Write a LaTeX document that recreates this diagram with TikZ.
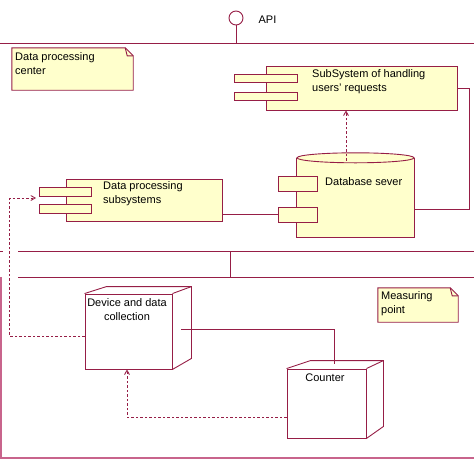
\documentclass[tikz,border=0pt]{standalone}
\usepackage{fontspec}
\setmainfont{Liberation Sans}
\usepackage{xcolor}
\usetikzlibrary{arrows,calc,positioning}
\definecolor{umlline}{RGB}{150,30,70}
\definecolor{umlfill}{RGB}{255,255,204}
\definecolor{framecol}{RGB}{200,100,140}
\tikzstyle{comp} = [draw=umlline, fill=umlfill, line width=0.9pt, rectangle, inner sep=0pt]
\tikzstyle{box3d} = [draw=umlline, fill=white, line width=0.9pt, rectangle, inner sep=0pt]
\tikzstyle{lbl} = [font=\fontsize{11}{14}\selectfont, align=left, inner sep=0pt]
\tikzstyle{conn} = [draw=umlline, line width=0.9pt]
\tikzstyle{dep} = [draw=umlline, line width=0.9pt, dash pattern=on 2.5pt off 2pt, ->, >=angle 60]

\begin{document}
\begin{tikzpicture}[x=1pt, y=-1pt]
\useasboundingbox (0,0) rectangle (474,474);

% frames
\draw[conn] (0,43) -- (480,43);
\draw[conn] (0,251) -- (3,251);
\draw[conn] (18,251) -- (480,251);
\draw[conn] (18,277) -- (480,277);
\draw[draw=framecol, line width=1.6pt] (1,277) -- (1,458) -- (480,458);
\coordinate (centerBot) at (230,251);
\coordinate (pointTop) at (230,277);
\draw[conn] (centerBot) -- (pointTop);

% interface
\node[draw=umlline, line width=0.9pt, circle, minimum size=14pt, inner sep=0pt] (api) at (236,18) {};
\node[lbl, right=15pt of api, yshift=-2pt] (apilbl) {API};
\coordinate (apiFoot) at (236,43);
\draw[conn] (api.south) -- (apiFoot);

% notes
\node[inner sep=0pt, minimum width=121pt, minimum height=42pt] (dpc) at (72.5,69) {};
\draw[conn, fill=umlfill] (dpc.south west) -- (dpc.south east) -- ([yshift=-8pt]dpc.north east)
    -- ([xshift=-8pt]dpc.north east) -- (dpc.north west) -- cycle;
\draw[conn] ([xshift=-8pt]dpc.north east) -- ([xshift=-6pt,yshift=-8pt]dpc.north east) -- ([yshift=-8pt]dpc.north east);
\node[lbl, anchor=north west] (dpclbl) at (15,52) {Data processing\\center};

\node[inner sep=0pt, minimum width=80pt, minimum height=34pt] (mp) at (418,305) {};
\draw[conn, fill=umlfill] (mp.south west) -- (mp.south east) -- ([yshift=-8pt]mp.north east)
    -- ([xshift=-8pt]mp.north east) -- (mp.north west) -- cycle;
\draw[conn] ([xshift=-8pt]mp.north east) -- ([xshift=-6pt,yshift=-8pt]mp.north east) -- ([yshift=-8pt]mp.north east);
\node[lbl, anchor=north west] (mplbl) at (381,291) {Measuring\\point};

% SubSystem of handling users' requests
\node[comp, minimum width=191pt, minimum height=44pt] (sub) at (361.5,88) {};
\node[comp, minimum width=63pt, minimum height=8pt] (subp1) at (265.5,78) {};
\node[comp, minimum width=63pt, minimum height=8pt] (subp2) at (265.5,96.5) {};
\node[lbl, anchor=north west] (sublbl) at (312,69) {SubSystem of handling\\users' requests};

% Data processing subsystems
\node[comp, minimum width=156pt, minimum height=42pt] (dps) at (144,200) {};
\node[comp, minimum width=52pt, minimum height=9pt] (dpsp1) at (65,191.5) {};
\node[comp, minimum width=52pt, minimum height=9pt] (dpsp2) at (65,208.5) {};
\node[lbl, anchor=north west] (dpslbl) at (103,181) {Data processing\\subsystems};

% Database sever
\node[inner sep=0pt, minimum width=117pt, minimum height=79pt] (db) at (355.5,197.5) {};
\fill[umlfill] (db.south west) rectangle (db.north east);
\draw[conn] (db.north west) -- (db.south west) -- (db.south east) -- (db.north east);
\draw[conn, fill=umlfill] (db.north) ellipse [x radius=58.5pt, y radius=5pt];
\node[comp, minimum width=39pt, minimum height=15pt] (dbp1) at (297.5,183.5) {};
\node[comp, minimum width=39pt, minimum height=15pt] (dbp2) at (297.5,214.5) {};
\node[lbl, anchor=north west] (dblbl) at (325,177) {Database sever};

% Device and data collection
\node[box3d, minimum width=87pt, minimum height=75pt] (dev) at (128.5,331.5) {};
\draw[conn] (dev.north west) -- ++(22,-7) -- ($(dev.north east)+(19,-7)$) -- ($(dev.south east)+(19,-11)$) -- (dev.south east);
\draw[conn] (dev.north east) -- ++(19,-7);
\node[lbl, anchor=north, align=center] (devlbl) at (127,298) {Device and data\\collection};

% Counter
\node[box3d, minimum width=79pt, minimum height=69pt] (cnt) at (326.5,403.5) {};
\draw[conn] (cnt.north west) -- ++(24,-8) -- ($(cnt.north east)+(17,-8)$) -- ($(cnt.south east)+(17,-12)$) -- (cnt.south east);
\draw[conn] (cnt.north east) -- ++(17,-8);
\node[lbl, anchor=north] (cntlbl) at (325,374) {Counter};

% connectors
\draw[conn] (sub.east) -- ++(12,0) |- ([yshift=-11.5pt]db.east);
\draw[conn] (dbp2.west) -- (dbp2.west -| dps.east);
\draw[dep] ([xshift=-9.5pt,yshift=-3pt]db.north) -- ([xshift=-9.5pt]db.north |- sub.south);
\coordinate (dpsIn) at (36,198);
\draw[dep] ([yshift=-4.5pt]dev.west) -| ++(-75,0) |- (dpsIn);
\draw[conn] ([xshift=9pt,yshift=2.5pt]dev.east) -| ([xshift=7.5pt,yshift=5pt]cnt.north);
\draw[dep] ([yshift=-13.5pt]cnt.west) -| ([xshift=-1.5pt]dev.south);
\end{tikzpicture}
\end{document}
